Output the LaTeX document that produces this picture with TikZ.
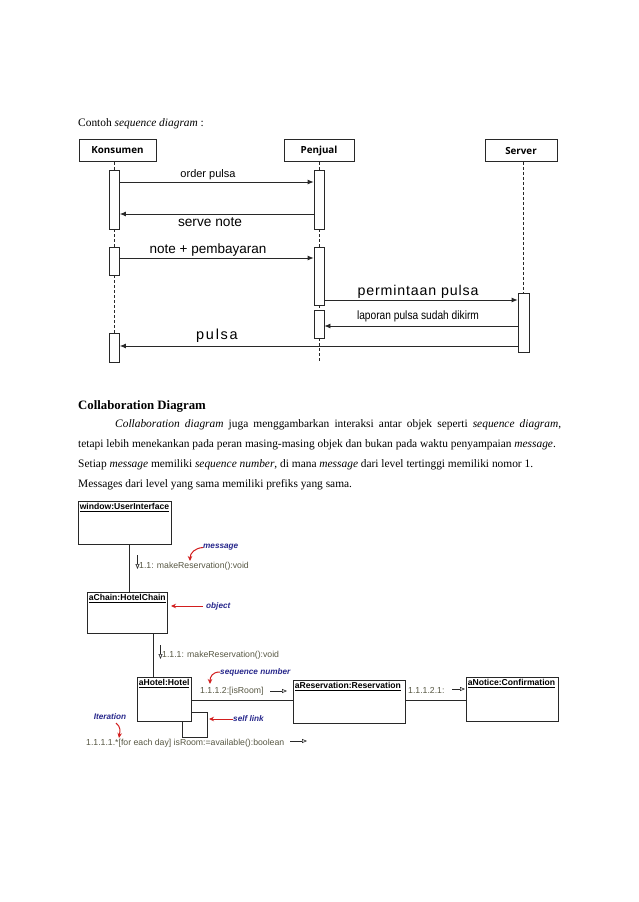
\documentclass[tikz,border=0pt]{standalone}
\usepackage{fontspec}
\setmainfont{Liberation Serif}
\newfontfamily\arial{Liberation Sans}
\newfontfamily\arialwide[LetterSpace=12]{Liberation Sans}
\newfontfamily\arialmid[LetterSpace=6]{Liberation Sans}
\newfontfamily\hdr{Open Sans}
\usetikzlibrary{arrows.meta}
\definecolor{lnc}{RGB}{40,40,40}
\definecolor{labc}{RGB}{88,88,68}
\definecolor{annb}{RGB}{40,40,140}
\definecolor{annr}{RGB}{210,30,30}
\tikzset{
  hbox/.style={draw=lnc, line width=0.9pt, inner sep=0pt, minimum height=22pt, font=\hdr\bfseries\fontsize{9.8}{11}\selectfont},
  act/.style={draw=lnc, line width=0.8pt, fill=white, inner sep=0pt, minimum width=10pt},
  life/.style={draw=lnc, line width=0.9pt, dash pattern=on 3pt off 2pt},
  msg/.style={draw=lnc, line width=0.8pt, -{Latex[length=6pt,width=5pt]}},
  mlab/.style={inner sep=0pt, text=black},
  body/.style={inner sep=0pt, anchor=west, font=\fontsize{11.4}{13}\selectfont},
  obj/.style={draw=lnc, line width=0.8pt, inner sep=0pt},
  otitle/.style={inner sep=0pt, anchor=north west, font=\arial\bfseries\fontsize{8.6}{9}\selectfont},
  link/.style={draw=lnc, line width=0.8pt},
  clab/.style={inner sep=0pt, anchor=west, text=labc, font=\arial\fontsize{8.7}{10}\selectfont},
  oarr/.style={draw=lnc, line width=0.6pt, -{Triangle[open,length=5pt,width=4pt]}},
  ann/.style={inner sep=0pt, text=annb, font=\arial\bfseries\itshape\fontsize{8.2}{10}\selectfont},
  rarr/.style={draw=annr, line width=1pt, -{Stealth[length=5pt,width=4.5pt]}}
}
\newcommand{\ul}[1]{\underline{#1}}
\begin{document}
\begin{tikzpicture}[x=1pt,y=-1pt]
\useasboundingbox (0,0) rectangle (638,902);
\fill[white] (0,0) rectangle (638,902);

% ---------- intro ----------
\node[body] (contoh) at (78,124) {Contoh \textit{sequence diagram} :};

% ---------- sequence diagram ----------
\node[hbox, minimum width=77pt] (kh) at (117.5,150.5) {Konsumen};
\node[hbox, minimum width=70pt] (ph) at (319,150.5) {Penjual};
\node[hbox, minimum width=72pt] (sh) at (521,150.5) {Server};

\node[act, minimum height=59pt] (k1) at (114.5,199.5) {};
\node[act, minimum height=28pt] (k2) at (114.5,261) {};
\node[act, minimum height=29pt] (k3) at (114.5,347.5) {};
\node[act, minimum height=59pt] (p1) at (319,199.5) {};
\node[act, minimum height=58pt] (p2) at (319,276) {};
\node[act, minimum height=28pt] (p3) at (319,324) {};
\node[act, minimum height=59pt, minimum width=11pt] (s1) at (523.5,322.5) {};

\draw[life] (k1.north |- kh.south) -- (k1.north);
\draw[life] (k1.south) -- (k2.north);
\draw[life] (k2.south) -- (k3.north);
\draw[life] (ph.south) -- (p1.north);
\draw[life] (p1.south) -- (p2.north);
\draw[life] (p2.south) -- (p3.north);
\coordinate (pend) at (319,361);
\draw[life] (p3.south) -- (pend);
\draw[life] (s1.north |- sh.south) -- (s1.north);

\draw[msg] (k1.east |- 0,182) -- (p1.west |- 0,182);
\node[mlab, font=\arial\fontsize{11}{12}\selectfont] (m1) at (208,175) {order pulsa};
\draw[msg] (p1.west |- 0,214) -- (k1.east |- 0,214);
\node[mlab, font=\arial\fontsize{13.7}{15}\selectfont] (m2) at (210,222) {serve note};
\draw[msg] (k2.east |- 0,258) -- (p2.west |- 0,258);
\node[mlab, font=\arial\fontsize{13.5}{15}\selectfont] (m3) at (208,250.5) {note + pembayaran};
\draw[msg] (p2.east |- 0,300) -- (s1.west |- 0,300);
\node[mlab, font=\arialmid\fontsize{14.2}{15}\selectfont] (m4) at (418,292) {permintaan pulsa};
\draw[msg] (s1.west |- 0,326) -- (p3.east |- 0,326);
\node[mlab, font=\arial\fontsize{12}{13}\selectfont] (m5) at (418,316.5) {\scalebox{0.85}[1]{laporan pulsa sudah dikirm}};
\draw[msg] (s1.west |- 0,346) -- (k3.east |- 0,346);
\node[mlab, font=\arialwide\fontsize{14.5}{15}\selectfont] (m6) at (217,336) {pulsa};

% ---------- text ----------
\node[body, font=\bfseries\fontsize{12.8}{15}\selectfont] (head) at (78,406) {Collaboration Diagram};
\node[body] (l1) at (115,425) {\makebox[446pt][s]{\textit{Collaboration diagram} juga menggambarkan interaksi antar objek seperti \textit{sequence diagram},}};
\node[body] (l2) at (78,445) {tetapi lebih menekankan pada peran masing-masing objek dan bukan pada waktu penyampaian \textit{message}.};
\node[body] (l3) at (78,465) {Setiap \textit{message} memiliki \textit{sequence number}, di mana \textit{message} dari level tertinggi memiliki nomor 1.};
\node[body] (l4) at (78,485) {Messages dari level yang sama memiliki prefiks yang sama.};

% ---------- collaboration diagram ----------
\node[obj, minimum width=93pt, minimum height=43pt] (win) at (124.5,522.5) {};
\node[otitle] (wint) at ([shift={(2,2.5)}]win.north west) {\ul{window:UserInterface}};
\node[obj, minimum width=80pt, minimum height=41pt] (chain) at (127,612.5) {};
\node[otitle] (chaint) at ([shift={(2,2.5)}]chain.north west) {\ul{aChain:HotelChain}};
\node[obj, minimum width=54pt, minimum height=44pt] (hotel) at (164,699) {};
\node[otitle] (hotelt) at ([shift={(2,2.5)}]hotel.north west) {\ul{aHotel:Hotel}};
\node[obj, minimum width=112pt, minimum height=43pt] (res) at (349,701.5) {};
\node[otitle] (rest) at ([shift={(2,2.5)}]res.north west) {\ul{aReservation:Reservation}};
\node[obj, minimum width=92pt, minimum height=44pt] (note) at (512,699) {};
\node[otitle] (notet) at ([shift={(2,2.5)}]note.north west) {\ul{aNotice:Confirmation}};

\draw[link] (win.south -| 129,0) -- (chain.north -| 129,0);
\draw[link] (chain.south -| 153,0) -- (hotel.north -| 153,0);
\draw[link] (hotel.east |- 0,700) -- (res.west |- 0,700);
\draw[link] (res.east |- 0,700) -- (note.west |- 0,700);
\draw[link] (hotel.south -| 182,0) -- (182,737) -- (207,737) -- (207,712) -- (hotel.east |- 0,712);

% message labels
\coordinate (a1s) at (137.5,555); \coordinate (a1e) at (137.5,569);
\draw[oarr] (a1s) -- (a1e);
\node[clab] (c1) at (139,566) {1.1: makeReservation():void};
\coordinate (a2s) at (160.5,645); \coordinate (a2e) at (160.5,659);
\draw[oarr] (a2s) -- (a2e);
\node[clab] (c2) at (162,655) {1.1.1: makeReservation():void};
\node[clab] (c3) at (200,691) {1.1.1.2:[isRoom]};
\coordinate (a3s) at (270,691); \coordinate (a3e) at (287,691);
\draw[oarr] (a3s) -- (a3e);
\node[clab] (c4) at (408,690) {1.1.1.2.1:};
\coordinate (a4s) at (452,689); \coordinate (a4e) at (465,689);
\draw[oarr] (a4s) -- (a4e);
\node[clab] (c5) at (86,743.5) {1.1.1.1.*[for each day] isRoom:=available():boolean};
\coordinate (a5s) at (290,741); \coordinate (a5e) at (307,741);
\draw[oarr] (a5s) -- (a5e);

% annotations
\node[ann, anchor=west] (amsg) at (203,547.5) {message};
\coordinate (amsgt) at (190,561);
\draw[rarr] (amsg.west) .. controls (195,548) and (190,553) .. (amsgt);
\node[ann, anchor=west] (aobj) at (206,606) {object};
\coordinate (aobjt) at (171,606);
\draw[rarr] (203,606) -- (aobjt);
\node[ann, anchor=west] (aseq) at (220,672) {sequence number};
\coordinate (aseqt) at (210,684);
\draw[rarr] (aseq.west) .. controls (212,672) and (210,677) .. (aseqt);
\node[ann, anchor=west] (aself) at (233,719) {self link};
\coordinate (aselft) at (209,719);
\draw[rarr] (aself.west) -- (aselft);
\node[ann] (aiter) at (110,717) {Iteration};
\coordinate (aiters) at (116,723);
\coordinate (aitert) at (119,738);
\draw[rarr] (aiters) .. controls (121,727) and (120,731) .. (aitert);
\end{tikzpicture}
\end{document}
